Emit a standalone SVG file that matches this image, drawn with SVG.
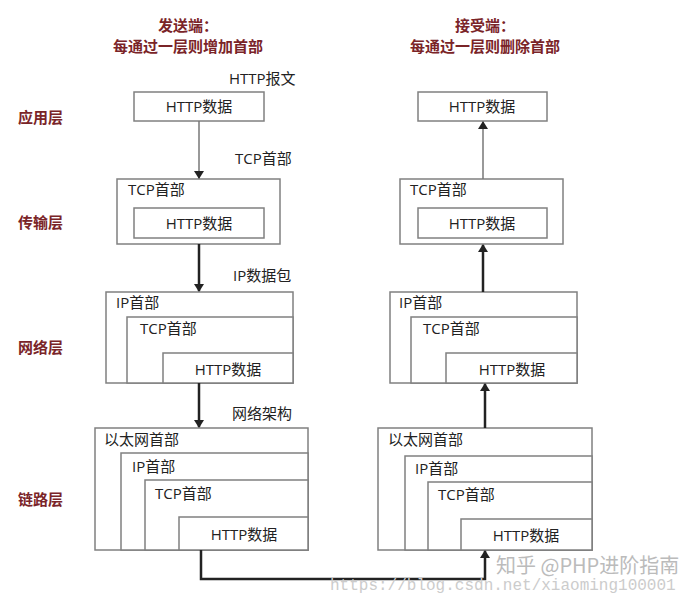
<svg xmlns="http://www.w3.org/2000/svg" width="700" height="596" viewBox="0 0 700 596">
<defs>
<style>
.b{fill:#fff;stroke:#808080;stroke-width:1.5}
.t{font-family:"Open Sans","Noto Sans CJK SC",sans-serif;font-size:15px;fill:#222}
.h{font-family:"Noto Sans CJK SC",sans-serif;font-size:15px;font-weight:bold;fill:#7a2428}
.l{stroke:#222;stroke-width:2.5;fill:none}
.g{stroke:#777;stroke-width:1.5;fill:none}
.w{font-family:"Noto Sans CJK SC",sans-serif;fill:#bbb}
</style>
<marker id="a" markerWidth="8" markerHeight="10" refX="7" refY="5" orient="auto" markerUnits="userSpaceOnUse"><path d="M0,0L8,5L0,10z" fill="#222"/></marker>
</defs>
<rect width="700" height="596" fill="#fff"/>
<g id="titles">
<text class="h" x="188" y="31" text-anchor="middle">发送端：</text>
<text class="h" x="188" y="52" text-anchor="middle">每通过一层则增加首部</text>
<text class="h" x="485" y="31" text-anchor="middle">接受端：</text>
<text class="h" x="485" y="52" text-anchor="middle">每通过一层则删除首部</text>
<text class="h" x="18" y="123">应用层</text>
<text class="h" x="18" y="228">传输层</text>
<text class="h" x="18" y="353">网络层</text>
<text class="h" x="18" y="505">链路层</text>
</g>
<g id="labels">
<text class="t" x="229" y="84">HTTP报文</text>
<text class="t" x="235" y="164">TCP首部</text>
<text class="t" x="233" y="281">IP数据包</text>
<text class="t" x="232" y="419">网络架构</text>
</g>
<g id="s-app"><rect class="b" x="134" y="92" width="130" height="29"/><text class="t" x="199" y="112" text-anchor="middle">HTTP数据</text></g>
<g id="s-tr"><rect class="b" x="117" y="179" width="163" height="65"/><text class="t" x="128" y="195">TCP首部</text>
<rect class="b" x="134" y="208" width="130" height="30"/><text class="t" x="199" y="229" text-anchor="middle">HTTP数据</text></g>
<g id="s-net"><rect class="b" x="106" y="292" width="187" height="91"/><text class="t" x="116" y="308">IP首部</text>
<rect class="b" x="127" y="317" width="166" height="66"/><text class="t" x="140" y="334">TCP首部</text>
<rect class="b" x="163" y="353" width="130" height="30"/><text class="t" x="228" y="375" text-anchor="middle">HTTP数据</text></g>
<g id="s-link"><rect class="b" x="95" y="428" width="213" height="122"/><text class="t" x="104" y="445">以太网首部</text>
<rect class="b" x="121" y="453" width="187" height="97"/><text class="t" x="132" y="472">IP首部</text>
<rect class="b" x="145" y="480" width="163" height="70"/><text class="t" x="155" y="499">TCP首部</text>
<rect class="b" x="179" y="517" width="129" height="33"/><text class="t" x="244" y="540" text-anchor="middle">HTTP数据</text></g>
<g id="r-app"><rect class="b" x="418" y="92" width="129" height="29"/><text class="t" x="482" y="112" text-anchor="middle">HTTP数据</text></g>
<g id="r-tr"><rect class="b" x="400" y="179" width="163" height="65"/><text class="t" x="410" y="195">TCP首部</text>
<rect class="b" x="418" y="208" width="129" height="30"/><text class="t" x="482" y="229" text-anchor="middle">HTTP数据</text></g>
<g id="r-net"><rect class="b" x="390" y="292" width="187" height="91"/><text class="t" x="399" y="308">IP首部</text>
<rect class="b" x="411" y="317" width="166" height="66"/><text class="t" x="423" y="334">TCP首部</text>
<rect class="b" x="446" y="353" width="131" height="30"/><text class="t" x="512" y="375" text-anchor="middle">HTTP数据</text></g>
<g id="r-link"><rect class="b" x="378" y="428" width="214" height="122"/><text class="t" x="388" y="445">以太网首部</text>
<rect class="b" x="405" y="456" width="187" height="94"/><text class="t" x="415" y="474">IP首部</text>
<rect class="b" x="428" y="482" width="164" height="68"/><text class="t" x="438" y="500">TCP首部</text>
<rect class="b" x="461" y="519" width="131" height="31"/><text class="t" x="526" y="541" text-anchor="middle">HTTP数据</text></g>
<g id="connectors">
<path class="g" d="M199,121V178" marker-end="url(#a)"/>
<path class="l" d="M199,244V291" marker-end="url(#a)"/>
<path class="l" d="M199,383V427" marker-end="url(#a)"/>
<path class="l" d="M201,550V579H485V551" marker-end="url(#a)"/>
<path class="l" d="M485,428V384" marker-end="url(#a)"/>
<path class="l" d="M483,292V245" marker-end="url(#a)"/>
<path class="g" d="M483,179V122" marker-end="url(#a)"/>
</g>
<g id="watermark">
<text class="w" x="496" y="573" font-size="20">知乎 @PHP进阶指南</text>
<text x="330" y="590" font-family="Liberation Mono,monospace" font-size="16" fill="#ccc">https://blog.csdn.net/xiaoming100001</text>
</g>
</svg>
